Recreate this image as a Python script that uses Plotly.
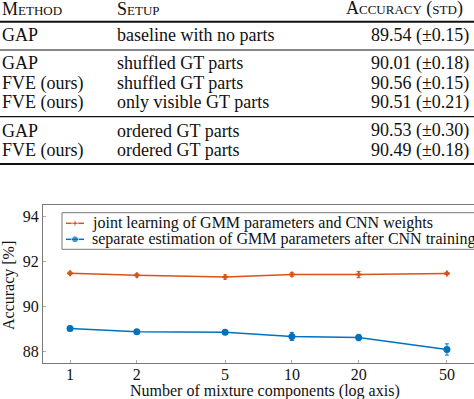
import plotly.graph_objects as go

# ---- data ----
components = [1, 2, 5, 10, 20, 50]
joint_acc = [91.48, 91.39, 91.31, 91.42, 91.42, 91.47]
joint_err = [0.06, 0.07, 0.09, 0.08, 0.14, 0.05]
sep_acc = [89.02, 88.88, 88.86, 88.67, 88.62, 88.09]
sep_err = [0.10, 0.06, 0.08, 0.18, 0.14, 0.25]
series_names = ["joint learning of GMM parameters and CNN weights",
                "separate estimation of GMM parameters after CNN training"]
x_tick_labels = ["1", "2", "5", "10", "20", "50"]
y_ticks = [88, 90, 92, 94]
x_title = "Number of mixture components (log axis)"
y_title = "Accuracy [%]"

table_methods = ["GAP", "GAP", "FVE (ours)", "FVE (ours)", "GAP", "FVE (ours)"]
table_setups = ["baseline with no parts", "shuffled GT parts", "shuffled GT parts",
                "only visible GT parts", "ordered GT parts", "ordered GT parts"]
table_acc = ["89.54 (±0.15)", "90.01 (±0.18)", "90.56 (±0.15)",
             "90.51 (±0.21)", "90.53 (±0.30)", "90.49 (±0.18)"]

W, H = 474, 399
ORANGE = "#d95319"
BLUE = "#0072bd"
FONT = "Liberation Serif"
colors = [ORANGE, BLUE]
symbols = ["cross", "circle"]
msizes = [5, 7]

def px(x):
    return x / W

def py(y):
    return 1 - y / H

fig = go.Figure()
for yv, ev, c, s, ms, nm in zip([joint_acc, sep_acc], [joint_err, sep_err],
                                colors, symbols, msizes, series_names):
    fig.add_trace(go.Scatter(
        x=components, y=yv, name=nm, mode="lines+markers", showlegend=False,
        line=dict(color=c, width=1.5),
        marker=dict(symbol=s, size=ms, color=c),
        error_y=dict(type="data", array=ev, color=c, thickness=1, width=2),
    ))

# ---- legend (drawn on a pixel overlay axis) ----
legend_rows = [223.3, 239.3]
ann = []
for c, s, ms, nm, ry in zip(colors, symbols, msizes, series_names, legend_rows):
    fig.add_trace(go.Scatter(
        x=[66, 75, 84], y=[ry, ry, ry], mode="lines+markers", showlegend=False,
        xaxis="x2", yaxis="y2", hoverinfo="skip",
        line=dict(color=c, width=1.5),
        marker=dict(symbol=s, size=[0, ms, 0], color=c),
    ))
    ann.append(dict(text=nm, x=px(90), y=py(ry), xanchor="left", size=16))

# axis titles
ann.append(dict(text=x_title, x=px((43 + 474) / 2 + 6), y=py(391), xanchor="center", size=16))
ann.append(dict(text=y_title, x=px(9), y=py(286), xanchor="center", size=16, textangle=-90))

# ---- table ----
def sc(word, small=13):
    out = ""
    for i, w in enumerate(word.split(" ")):
        if i:
            out += " "
        if w.startswith("("):
            out += "(" + f"<span style='font-size:{small}px'>{w[1:-1].upper()}</span>" + ")"
        else:
            out += w[0] + f"<span style='font-size:{small}px'>{w[1:].upper()}</span>"
    return out

header_y = 9
ann.append(dict(text=sc("Method"), x=px(0), y=py(header_y), xanchor="left"))
ann.append(dict(text=sc("Setup"), x=px(115), y=py(header_y), xanchor="left"))
ann.append(dict(text=sc("Accuracy (std)"), x=px(465), y=py(header_y), xanchor="right"))
row_y = [35, 63.3, 83.3, 102.3, 130.7, 150]
for m, s, a, yy in zip(table_methods, table_setups, table_acc, row_y):
    ann.append(dict(text=m, x=px(0), y=py(yy), xanchor="left"))
    ann.append(dict(text=s, x=px(115), y=py(yy), xanchor="left"))
    ann.append(dict(text=a, x=px(471), y=py(yy), xanchor="right"))
annotations = []
for a in ann:
    size = a.pop("size", 18)
    a.update(xref="paper", yref="paper", yanchor="middle", showarrow=False,
             font=dict(family=FONT, size=size, color="#111"))
    annotations.append(a)

shapes = []
for yy, w in [(21.7, 2), (50, 1.2), (116.7, 1.2), (164, 2)]:
    shapes.append(dict(type="line", xref="paper", yref="paper",
                       x0=0, x1=1, y0=py(yy), y1=py(yy),
                       line=dict(color="#111", width=w)))
# legend box
shapes.append(dict(type="rect", xref="paper", yref="paper",
                   x0=px(62), x1=px(W + 10), y0=py(212.7), y1=py(249.3),
                   line=dict(color="#777", width=1), fillcolor="white", layer="below"))

fig.update_layout(
    width=W, height=H,
    margin=dict(l=0, r=0, t=0, b=0),
    paper_bgcolor="white", plot_bgcolor="rgba(0,0,0,0)",
    font=dict(family=FONT, size=16, color="#222"),
    annotations=annotations, shapes=shapes,
    showlegend=False,
    xaxis=dict(type="log", domain=[px(43), 1], range=[-0.122, 1.821],
               tickvals=components, ticktext=x_tick_labels,
               showline=True, linecolor="#777", linewidth=1, mirror=True,
               ticks="inside", ticklen=3, tickcolor="#aaa",
               ticklabelstandoff=-3,
               showgrid=False, zeroline=False, automargin=False,
               tickfont=dict(color="#111")),
    yaxis=dict(domain=[1 - 363 / H, 1 - 205 / H], range=[87.49, 94.51],
               tickvals=y_ticks, showline=True, linecolor="#777", linewidth=1,
               mirror=False, ticks="inside", ticklen=3, tickcolor="#aaa",
               showgrid=False, zeroline=False, automargin=False,
               tickfont=dict(color="#111")),
    xaxis2=dict(domain=[0, 1], range=[0, W], visible=False, fixedrange=True),
    yaxis2=dict(domain=[0, 1], range=[H, 0], visible=False, fixedrange=True,
                anchor="x2"),
)
fig.update_layout(xaxis2_anchor="y2")

fig.write_html("out.html",
               config={"displayModeBar": False},
               post_script="document.body.style.margin='0';"
                           "document.body.style.overflow='hidden';")
